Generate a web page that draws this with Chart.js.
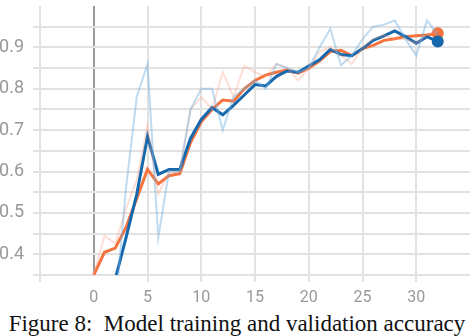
<!DOCTYPE html>
<html>
<head>
<meta charset="utf-8">
<script src="https://cdn.jsdelivr.net/npm/chart.js@4.4.0/dist/chart.umd.min.js"></script>
<style>
  html, body { margin: 0; padding: 0; background: #fff; overflow: hidden; }
  #wrap { position: absolute; left: 0; top: 0; width: 476px; height: 310px; }
  #caption {
    position: absolute; left: 0; top: 311px; width: 474px; text-align: center;
    font-family: "Liberation Serif", "Times New Roman", serif; font-size: 23px; color: #111;
    white-space: nowrap;
  }
</style>
</head>
<body>
<div id="wrap"><canvas id="myChart"></canvas></div>
<div id="caption">Figure 8:&nbsp; Model training and validation accuracy</div>
<script>
// epochs 0..32
var epochs = [0,1,2,3,4,5,6,7,8,9,10,11,12,13,14,15,16,17,18,19,20,21,22,23,24,25,26,27,28,29,30,31,32];

// raw (faint) curves
var blueRaw = [null,null,0.27,0.56,0.78,0.86,0.44,0.60,0.60,0.75,0.80,0.80,0.70,0.78,0.80,0.82,0.80,0.86,0.85,0.84,0.85,0.90,0.945,0.857,0.88,0.92,0.95,0.955,0.965,0.92,0.88,0.965,0.93];
var orangeRaw = [0.35,0.445,0.426,0.51,0.58,0.71,0.545,0.60,0.60,0.75,0.78,0.75,0.84,0.78,0.855,0.84,0.83,0.86,0.85,0.82,0.85,0.89,0.90,0.88,0.86,0.90,0.92,0.93,0.92,0.92,0.91,0.93,0.94];

// smoothed (dark) curves
var blueSmooth = [null,null,0.34,0.44,0.545,0.685,0.593,0.605,0.605,0.68,0.726,0.755,0.737,0.76,0.785,0.81,0.807,0.83,0.843,0.84,0.855,0.87,0.895,0.883,0.88,0.897,0.917,0.928,0.94,0.926,0.91,0.926,0.914];
var orangeSmooth = [0.35,0.405,0.415,0.465,0.535,0.605,0.57,0.59,0.595,0.67,0.72,0.75,0.773,0.77,0.80,0.82,0.833,0.84,0.845,0.838,0.85,0.867,0.89,0.893,0.88,0.897,0.905,0.917,0.921,0.926,0.928,0.93,0.934];

// grid positions and the ones that get a label
var yGrid = [0.35,0.40,0.45,0.50,0.55,0.60,0.65,0.70,0.75,0.80,0.85,0.90,0.95];
var yTicksShown = [0.4,0.5,0.6,0.7,0.8,0.9];
var xGrid = [-5,0,5,10,15,20,25,30];
var xTicksShown = [0,5,10,15,20,25,30];

function pts(arr) {
    var out = [];
    for (var i = 0; i < epochs.length; i++) {
        out.push({x: epochs[i], y: arr[i]});
    }
    return out;
}

var lastIdx = epochs.length - 1;
function endDot(ctx) { return ctx.dataIndex == lastIdx ? 6 : 0; }

var ctx = document.getElementById('myChart');
new Chart(ctx, {
    type: 'line',
    data: {
        datasets: [{
            data: pts(blueRaw),
            borderColor: 'rgba(110, 175, 225, 0.45)',
            borderWidth: 2,
            pointRadius: 0,
            tension: 0
        },
        {
            data: pts(orangeRaw),
            borderColor: 'rgba(255, 150, 120, 0.3)',
            borderWidth: 2,
            pointRadius: 0,
            tension: 0
        },
        {
            data: pts(blueSmooth),
            borderColor: '#1668ad',
            backgroundColor: '#1668ad',
            borderWidth: 3,
            pointRadius: endDot,
            pointBorderWidth: 0,
            tension: 0
        },
        {
            data: pts(orangeSmooth),
            borderColor: '#f4733f',
            backgroundColor: '#f4733f',
            borderWidth: 3,
            pointRadius: endDot,
            pointBorderWidth: 0,
            tension: 0
        }]
    },
    options: {
        responsive: true,
        maintainAspectRatio: false,
        animation: false,
        layout: { padding: 0 },
        plugins: { legend: { display: false }, tooltip: { enabled: false } },
        scales: {
            x: {
                type: 'linear',
                min: -5,
                max: 35,
                afterBuildTicks: function(s) { s.ticks = xGrid.map(function(v) { return {value: v}; }); },
                afterFit: function(s) { s.height = 35; s.paddingLeft = 0; s.paddingRight = 0; },
                border: { display: false },
                grid: {
                    color: function(c) { return c.tick && c.tick.value == 0 ? '#9a9a9a' : '#e2e2e2'; },
                    tickColor: function(c) { return c.tick && c.tick.value == 0 ? 'rgba(0,0,0,0)' : '#e2e2e2'; },
                    lineWidth: 2,
                    tickLength: 7
                },
                ticks: {
                    padding: 6,
                    color: '#999',
                    font: { family: 'Roboto', size: 16 },
                    maxRotation: 0,
                    autoSkip: false,
                    callback: function(v) { return xTicksShown.indexOf(v) >= 0 ? String(v) : ''; }
                }
            },
            y: {
                min: 0.35,
                max: 1.0,
                afterBuildTicks: function(s) { s.ticks = yGrid.map(function(v) { return {value: v}; }); },
                afterFit: function(s) { s.width = 40; s.paddingTop = 0; s.paddingBottom = 0; },
                border: { display: false },
                grid: {
                    color: '#e2e2e2',
                    lineWidth: 2,
                    tickLength: 7
                },
                ticks: {
                    padding: 9,
                    color: '#999',
                    autoSkip: false,
                    font: { family: 'Roboto', size: 18 },
                    callback: function(v) {
                        for (var i = 0; i < yTicksShown.length; i++) {
                            if (Math.abs(v - yTicksShown[i]) < 0.001) return yTicksShown[i].toFixed(1);
                        }
                        return '';
                    }
                }
            }
        }
    }
});
</script>
</body>
</html>
